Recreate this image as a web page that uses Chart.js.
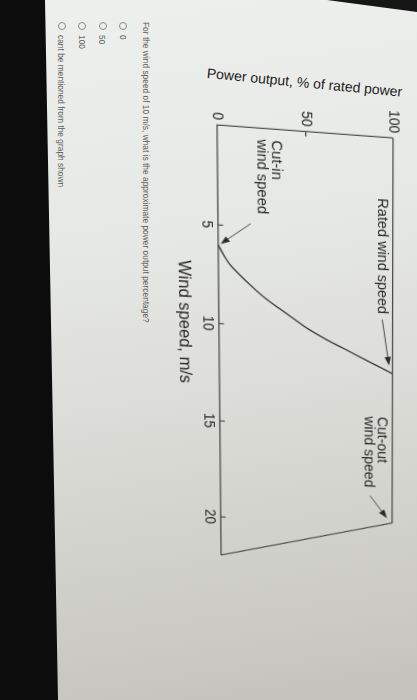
<!DOCTYPE html>
<html>
<head>
<meta charset="utf-8">
<script src="https://cdn.jsdelivr.net/npm/chart.js@4.4.1/dist/chart.umd.min.js"></script>
<style>
  html, body { margin: 0; padding: 0; }
  body {
    width: 417px; height: 700px; overflow: hidden; position: relative;
    background: linear-gradient(172deg, #eef0ee 0%, #e6e8e5 35%, #d8d8d3 65%, #c3c2bc 100%);
    font-family: 'Liberation Sans', Arial, sans-serif;
  }
  #bezel {
    position: absolute; left: 0; top: 0; width: 60px; height: 700px; background: #0c0c0c;
    clip-path: polygon(0 0, 45px 0, 58px 700px, 0 700px);
  }
  #corner {
    position: absolute; right: 0; top: 0; width: 100px; height: 12px; background: #161616;
    clip-path: polygon(10px 0, 100px 0, 100px 12px);
  }
  #title {
    position: absolute; left: 207px; top: 65px; font-size: 14px; line-height: 16px;
    color: #222; white-space: nowrap; transform-origin: 0 50%; transform: rotate(5.5deg);
  }
  #chart { position: absolute; left: 0; top: 0; transform-origin: 0 0; }
  #quiz {
    position: absolute; left: 152px; top: 22px; width: 340px;
    transform-origin: 0 0; transform: rotate(90deg);
    font-size: 8.4px; color: #5c5c5c; white-space: nowrap;
  }
  #quiz p { margin: 0; height: 12px; line-height: 12px; }
  #quiz .opt { margin-top: 8.5px; height: 12px; line-height: 12px; }
  #quiz .opt.first { margin-top: 11px; }
  #quiz .radio {
    display: inline-block; width: 6px; height: 6px; border: 1px solid #8a8a8a; border-radius: 50%;
    vertical-align: middle; margin: -2px 5px 0 0;
  }
</style>
</head>
<body>
<div id="bezel"></div>
<div id="corner"></div>
<div id="title">Power output, % of rated power</div>
<div id="quiz">
  <p>For the wind speed of 10 m/s, what is the approximate power output percentage?</p>
  <div class="opt first"><span class="radio"></span>0</div>
  <div class="opt"><span class="radio"></span>50</div>
  <div class="opt"><span class="radio"></span>100</div>
  <div class="opt"><span class="radio"></span>cant be mentioned from the graph shown</div>
</div>
<canvas id="chart" width="500" height="240"></canvas>
<script>
// Curva de potência: do cut-in até a potência nominal
const windSpeed = [6, 6.9, 7.7, 8.4, 9, 9.5, 10, 10.5, 11, 11.5, 12.12];
const powerPct = [0, 6, 15, 24, 33.5, 42, 50.5, 61, 73, 85, 100];
// Linha de 100% até o cut-out e a queda depois dele
const limitWind = [0, 20, 22];
const limitPower = [100, 100, 0];
const xTicks = [5, 10, 15, 20];
const yTicks = [0, 50, 100];
const xMax = 22;

const FONT = "'Liberation Sans', Arial, sans-serif";

// Textos e setas (posições em unidades do gráfico)
const notes = [
  { lines: ['Cut-in', 'wind speed'], at: [0.55, 33], from: [4.83, 18.5], to: [5.95, 1.4] },
  { lines: ['Rated wind speed'], at: [3.1, 94], from: [9.33, 94], to: [11.7, 98] },
  { lines: ['Cut-out', 'wind speed'], at: [14.4, 94], from: [18.6, 87], to: [19.75, 97] },
];

// Onde a foto mostra os cantos do gráfico (girado e inclinado)
const anchors = [
  { data: [0, 0], screen: [217, 125] },
  { data: [0, 100], screen: [393, 138] },
  { data: [20, 100], screen: [392, 523] },
  { data: [22, 0], screen: [221, 555] },
];

function solveHomography(src, dst) {
  const A = [], b = [];
  for (let i = 0; i < 4; i++) {
    const [x, y] = src[i], [X, Y] = dst[i];
    A.push([x, y, 1, 0, 0, 0, -x * X, -y * X]); b.push(X);
    A.push([0, 0, 0, x, y, 1, -x * Y, -y * Y]); b.push(Y);
  }
  for (let c = 0; c < 8; c++) {
    let p = c;
    for (let r = c + 1; r < 8; r++) if (Math.abs(A[r][c]) > Math.abs(A[p][c])) p = r;
    [A[c], A[p]] = [A[p], A[c]];
    [b[c], b[p]] = [b[p], b[c]];
    for (let r = 0; r < 8; r++) {
      if (r === c) continue;
      const f = A[r][c] / A[c][c];
      for (let k = c; k < 8; k++) A[r][k] -= f * A[c][k];
      b[r] -= f * b[c];
    }
  }
  return b.map((v, i) => v / A[i][i]);
}

function arrow(ctx, x1, y1, x2, y2) {
  const ang = Math.atan2(y2 - y1, x2 - x1);
  ctx.beginPath();
  ctx.moveTo(x1, y1);
  ctx.lineTo(x2 - 6 * Math.cos(ang), y2 - 6 * Math.sin(ang));
  ctx.stroke();
  ctx.beginPath();
  ctx.moveTo(x2, y2);
  ctx.lineTo(x2 - 9 * Math.cos(ang) + 3.2 * Math.sin(ang), y2 - 9 * Math.sin(ang) - 3.2 * Math.cos(ang));
  ctx.lineTo(x2 - 9 * Math.cos(ang) - 3.2 * Math.sin(ang), y2 - 9 * Math.sin(ang) + 3.2 * Math.cos(ang));
  ctx.closePath();
  ctx.fill();
}

const overlay = {
  id: 'overlay',
  afterDatasetsDraw(chart) {
    const { ctx, chartArea, scales: { x, y } } = chart;
    ctx.save();
    ctx.strokeStyle = '#4a4a4a';
    ctx.fillStyle = '#2a2a2a';
    ctx.lineWidth = 1.2;

    // eixos
    ctx.beginPath();
    ctx.moveTo(x.getPixelForValue(0), y.getPixelForValue(100));
    ctx.lineTo(x.getPixelForValue(0), y.getPixelForValue(0));
    ctx.lineTo(x.getPixelForValue(xMax), y.getPixelForValue(0));
    ctx.stroke();

    // marquinhas para dentro
    ctx.beginPath();
    xTicks.forEach(v => {
      const px = x.getPixelForValue(v);
      ctx.moveTo(px, y.getPixelForValue(0));
      ctx.lineTo(px, y.getPixelForValue(0) - 5);
    });
    yTicks.slice(1, -1).forEach(v => {
      const py = y.getPixelForValue(v);
      ctx.moveTo(x.getPixelForValue(0), py);
      ctx.lineTo(x.getPixelForValue(0) + 5, py);
    });
    ctx.stroke();

    // anotações
    ctx.font = '15px ' + FONT;
    ctx.textBaseline = 'middle';
    ctx.textAlign = 'left';
    ctx.lineWidth = 1;
    notes.forEach(n => {
      n.lines.forEach((t, i) => {
        ctx.fillText(t, x.getPixelForValue(n.at[0]), y.getPixelForValue(n.at[1] - i * 8));
      });
      arrow(ctx, x.getPixelForValue(n.from[0]), y.getPixelForValue(n.from[1]),
        x.getPixelForValue(n.to[0]), y.getPixelForValue(n.to[1]));
    });

    // título do eixo x
    ctx.font = '17px ' + FONT;
    ctx.textAlign = 'center';
    ctx.fillText('Wind speed, m/s', x.getPixelForValue(10), chartArea.bottom + 33);
    ctx.restore();
  },
  afterRender(chart) {
    if (chart.$placed) return;
    chart.$placed = true;
    const { x, y } = chart.scales;
    const src = anchors.map(a => [x.getPixelForValue(a.data[0]), y.getPixelForValue(a.data[1])]);
    const h = solveHomography(src, anchors.map(a => a.screen));
    chart.canvas.style.transform =
      `matrix3d(${h[0]},${h[3]},0,${h[6]},${h[1]},${h[4]},0,${h[7]},0,0,1,0,${h[2]},${h[5]},0,1)`;
  },
};

new Chart(document.getElementById('chart'), {
  type: 'line',
  data: {
    datasets: [
      {
        data: windSpeed.map((w, i) => ({ x: w, y: powerPct[i] })),
        borderColor: '#333',
        borderWidth: 1.3,
        pointRadius: 0,
        cubicInterpolationMode: 'monotone',
        clip: false,
      },
      {
        data: limitWind.map((w, i) => ({ x: w, y: limitPower[i] })),
        borderColor: '#4a4a4a',
        borderWidth: 1.2,
        pointRadius: 0,
        tension: 0,
        clip: false,
      },
    ],
  },
  options: {
    responsive: false,
    animation: false,
    events: [],
    layout: { padding: { left: 10, right: 12, top: 10, bottom: 34 } },
    plugins: { legend: { display: false }, tooltip: { enabled: false } },
    scales: {
      x: {
        type: 'linear', min: 0, max: xMax,
        afterBuildTicks: s => { s.ticks = xTicks.map(v => ({ value: v })); },
        grid: { display: false, drawTicks: false },
        border: { display: false },
        ticks: { padding: 3, color: '#222', font: { family: FONT, size: 14 } },
      },
      y: {
        min: 0, max: 100,
        afterBuildTicks: s => { s.ticks = yTicks.map(v => ({ value: v })); },
        grid: { display: false, drawTicks: false },
        border: { display: false },
        ticks: { padding: 5, color: '#222', font: { family: FONT, size: 14 } },
      },
    },
  },
  plugins: [overlay],
});
</script>
</body>
</html>
